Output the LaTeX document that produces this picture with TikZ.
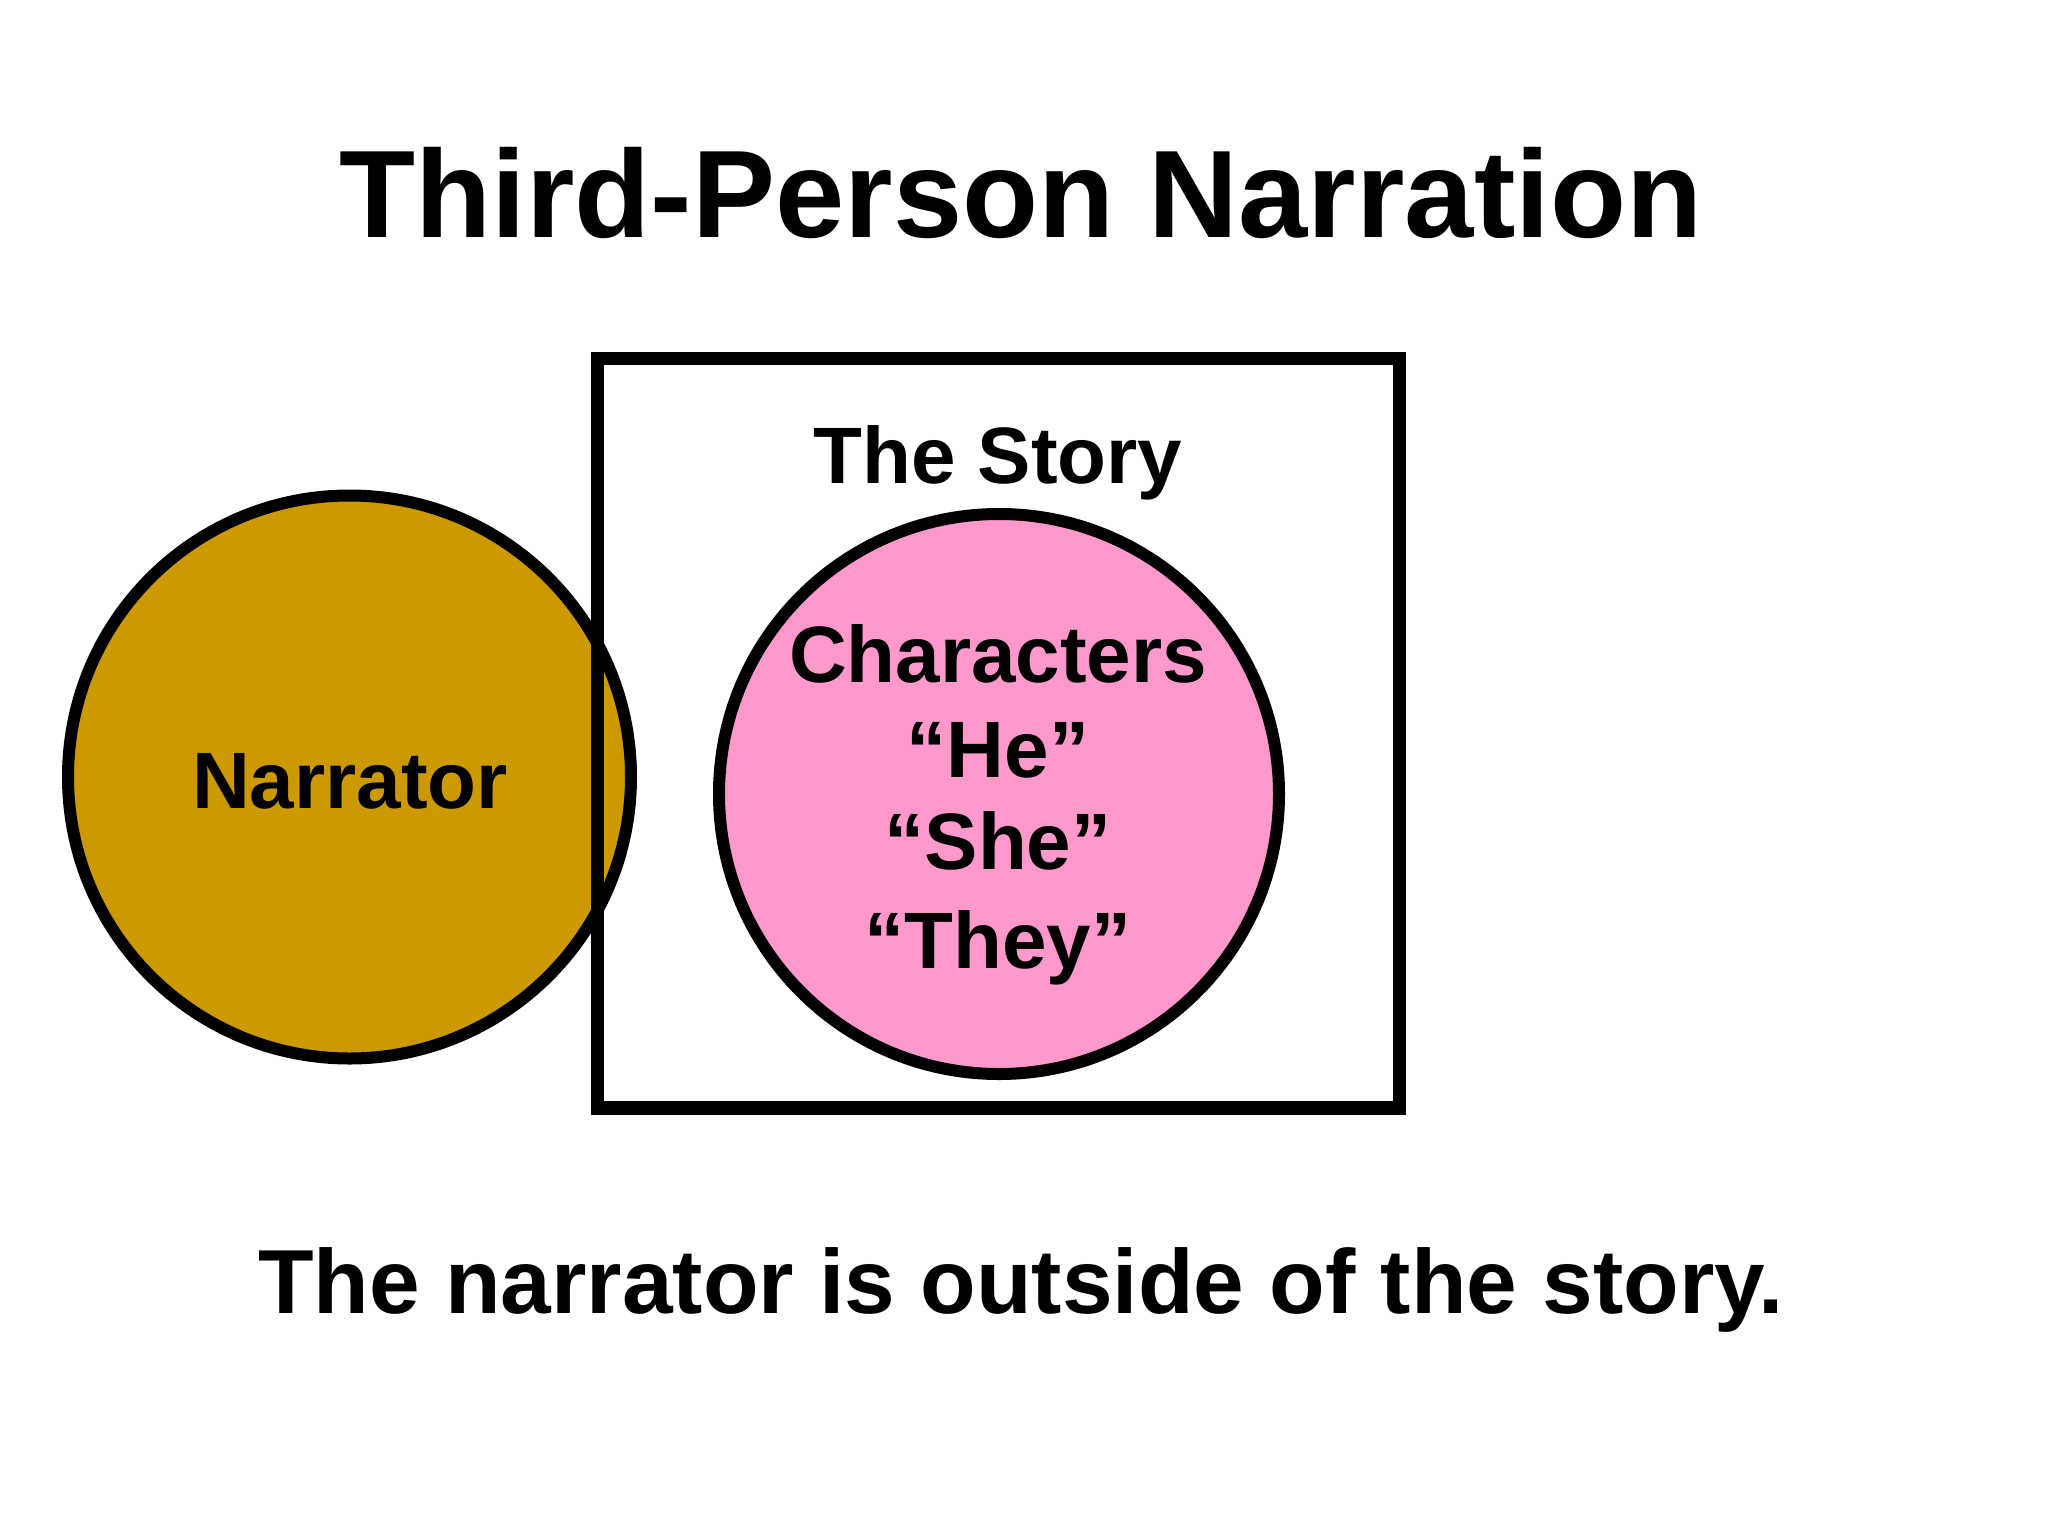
\documentclass[tikz,border=0pt]{standalone}
\usepackage{fontspec}
\setmainfont{Liberation Sans}
\definecolor{gold}{HTML}{CC9900}
\definecolor{pinkfill}{HTML}{FF99CC}
\begin{document}
\begin{tikzpicture}[x=1pt,y=-1pt,
  bigtitle/.style={font=\bfseries\fontsize{124.5}{124.5}\selectfont, inner sep=0pt, anchor=base},
  midtext/.style={font=\bfseries\fontsize{80}{80}\selectfont, inner sep=0pt, anchor=base},
  bottomtext/.style={font=\bfseries\fontsize{91}{91}\selectfont, inner sep=0pt, anchor=base},
  ring/.style={draw=black, line width=12pt}]
\useasboundingbox[fill=white] (0,0) rectangle (2048,1536);
% circles
\fill[gold] (349.5,777) circle[radius=281.5];
\draw[ring] (349.5,777) circle[radius=281.5];
\node[circle, minimum size=563pt, inner sep=0pt] (narrcirc) at (349.5,777) {};
\fill[pinkfill] (999,794) circle[radius=280];
\draw[ring] (999,794) circle[radius=280];
\node[circle, minimum size=560pt, inner sep=0pt] (charcirc) at (999,794) {};
% story box
\draw[line width=13.5pt] (597.5,358.5) rectangle (1399.5,1108);
% texts
\node[bigtitle] (title) at (1021,237) {Third-Person Narration};
\node[midtext] (story) at (998,483) {The Story};
\node[midtext] (narr) at (350,808) {Narrator};
\node[midtext] (chars) at (998,682) {Characters};
\node[midtext] (he) at (998,777) {“He”};
\node[midtext] (she) at (998,869) {“She”};
\node[midtext] (they) at (998,968) {“They”};
\node[bottomtext] (bottom) at (1021,1313) {The narrator is outside of the story.};
\end{tikzpicture}
\end{document}
